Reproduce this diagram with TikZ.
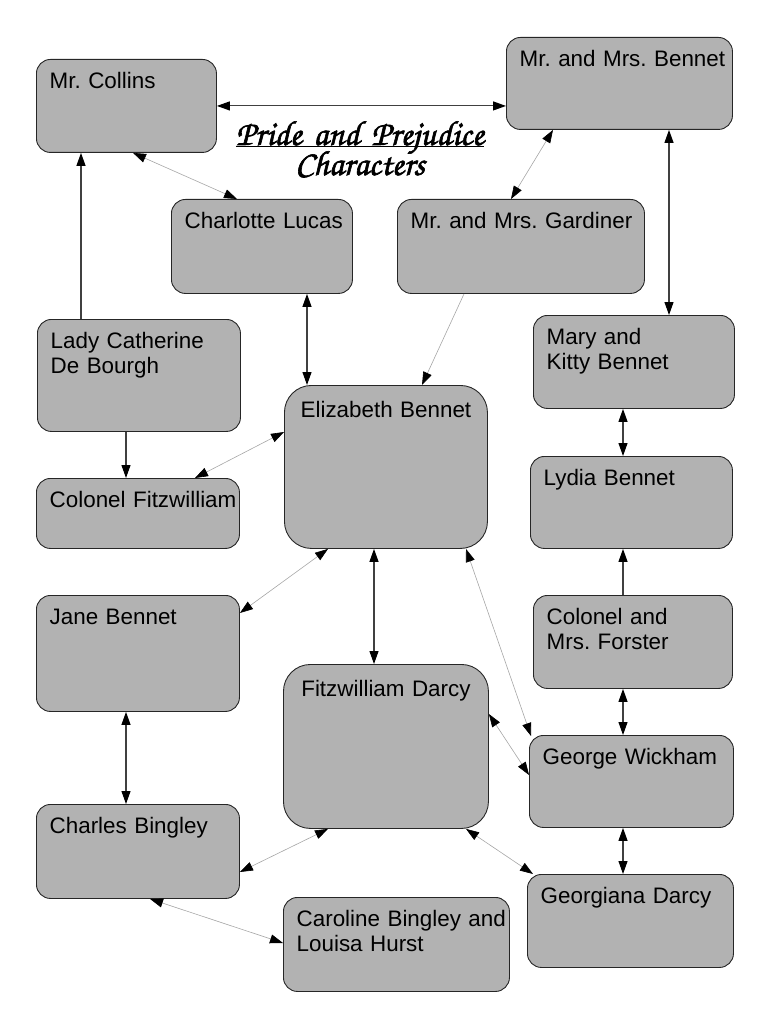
\documentclass[tikz,border=0pt]{standalone}
\usepackage{fontspec}
\setmainfont{Liberation Sans}
\newfontfamily\titlefont[FakeBold=1.8]{TeX Gyre Chorus}
\usetikzlibrary{arrows.meta}
\frenchspacing
\tikzstyle{person} = [rectangle, draw=black!85, line width=0.9pt, fill=black!30, rounded corners=14pt, anchor=north west, inner sep=0pt]
\tikzstyle{big} = [rounded corners=27pt]
\tikzstyle{who} = [anchor=base west, xshift=13.5pt, yshift=-29.5pt, inner sep=0pt, text width=270pt, align=left, font=\fontsize{22.4}{25}\selectfont]
\tikzstyle{whomid} = [anchor=base, yshift=-32pt, inner sep=0pt, text width=200pt, align=center, font=\fontsize{22.4}{25}\selectfont]
\tikzstyle{tie} = [draw, black!75, line width=1.1pt, >={Triangle[length=13pt, width=9pt, color=black]}]
\tikzstyle{faint} = [draw, black!35, line width=0.6pt, >={Triangle[length=13pt, width=9pt, color=black]}]

\begin{document}
\begin{tikzpicture}[x=1pt, y=-1pt]
		\useasboundingbox (0,0) rectangle (768,1024);
		
		\node [anchor=base, text width=320pt, align=center, font=\titlefont\fontsize{35}{30}\selectfont] (title) at (360,145) {$\underline{\smash{\hbox{Pride and Prejudice}}}$\\Characters};
		
		\node [person, minimum width=180, minimum height=93, label={[who]north west:Mr. Collins}] (collins) at (36,59) {};
		\node [person, minimum width=226, minimum height=92, label={[who]north west:Mr. and Mrs. Bennet}] (bennet) at (506,37) {};
		\node [person, minimum width=181, minimum height=94, label={[who]north west:Charlotte Lucas}] (charlotte) at (171,199) {};
		\node [person, minimum width=247, minimum height=94, label={[who]north west:Mr. and Mrs. Gardiner}] (gardiner) at (397,199) {};
		\node [person, minimum width=203, minimum height=112, label={[who]north west:Lady Catherine\\De Bourgh}] (catherine) at (37,319) {};
		\node [person, minimum width=201, minimum height=93, label={[who]north west:Mary and\\Kitty Bennet}] (mary) at (533,315) {};
		\node [person, big, minimum width=203, minimum height=163, label={[whomid]north:Elizabeth Bennet}] (elizabeth) at (284,385) {};
		\node [person, minimum width=203, minimum height=70, label={[who]north west:Colonel Fitzwilliam}] (fitzwilliam) at (36,478) {};
		\node [person, minimum width=202, minimum height=92, label={[who]north west:Lydia Bennet}] (lydia) at (530,456) {};
		\node [person, minimum width=203, minimum height=116, label={[who]north west:Jane Bennet}] (jane) at (36,595) {};
		\node [person, minimum width=199, minimum height=93, label={[who]north west:Colonel and\\Mrs. Forster}] (forster) at (533,595) {};
		\node [person, big, minimum width=205, minimum height=164, label={[whomid]north:Fitzwilliam Darcy}] (darcy) at (283,664) {};
		\node [person, minimum width=204, minimum height=92, label={[who]north west:George Wickham}] (wickham) at (529,735) {};
		\node [person, minimum width=203, minimum height=94, label={[who]north west:Charles Bingley}] (bingley) at (36,804) {};
		\node [person, minimum width=206, minimum height=93, label={[who]north west:Georgiana Darcy}] (georgiana) at (527,874) {};
		\node [person, minimum width=226, minimum height=94, label={[who]north west:Caroline Bingley and\\Louisa Hurst}] (caroline) at (283,897) {};
		
		\path [tie, <->] (collins.east) to (collins.east -| bennet.west);
		\path [faint, <->] ([xshift=97pt]collins.south west) to ([xshift=66pt]charlotte.north west);
		\path [faint, <->] ([xshift=47pt]bennet.south west) to ([xshift=114pt]gardiner.north west);
		\path [tie, <->] ([xshift=163pt]bennet.south west) to ([xshift=136pt]mary.north west);
		\path [tie, ->] ([xshift=44pt]catherine.north west) to ([xshift=45pt]collins.south west);
		\path [tie, <->] ([xshift=136pt]charlotte.south west) to ([xshift=23pt]elizabeth.north west);
		\path [faint, ->] ([xshift=67pt]gardiner.south west) to ([xshift=138pt]elizabeth.north west);
		\path [tie, ->] ([xshift=89pt]catherine.south west) to ([xshift=90pt]fitzwilliam.north west);
		\path [faint, <->] ([yshift=-47pt]elizabeth.north west) to ([xshift=159pt]fitzwilliam.north west);
		\path [tie, <->] ([xshift=90pt]mary.south west) to ([xshift=93pt]lydia.north west);
		\path [faint, <->] ([xshift=44pt]elizabeth.south west) to ([yshift=-18pt]jane.north east);
		\path [tie, <->] ([xshift=90pt]elizabeth.south west) to ([xshift=91pt]darcy.north west);
		\path [faint, <->] ([xshift=182pt]elizabeth.south west) to ([xshift=2pt, yshift=-1pt]wickham.north west);
		\path [tie, ->] ([xshift=90pt]forster.north west) to ([xshift=93pt]lydia.south west);
		\path [tie, <->] ([xshift=90pt]forster.south west) to ([xshift=94pt]wickham.north west);
		\path [faint, <->] ([yshift=-50pt]darcy.north east) to ([yshift=-40pt]wickham.north west);
		\path [tie, <->] ([xshift=90pt]jane.south west) to ([xshift=90pt]bingley.north west);
		\path [faint, <->] ([xshift=45pt]darcy.south west) to ([yshift=-68pt]bingley.north east);
		\path [faint, <->] ([xshift=183pt]darcy.south west) to ([xshift=6pt]georgiana.north west);
		\path [tie, <->] ([xshift=94pt]wickham.south west) to ([xshift=96pt]georgiana.north west);
		\path [faint, <->] ([xshift=114pt]bingley.south west) to ([yshift=-46pt]caroline.north west);
\end{tikzpicture}
\end{document}
